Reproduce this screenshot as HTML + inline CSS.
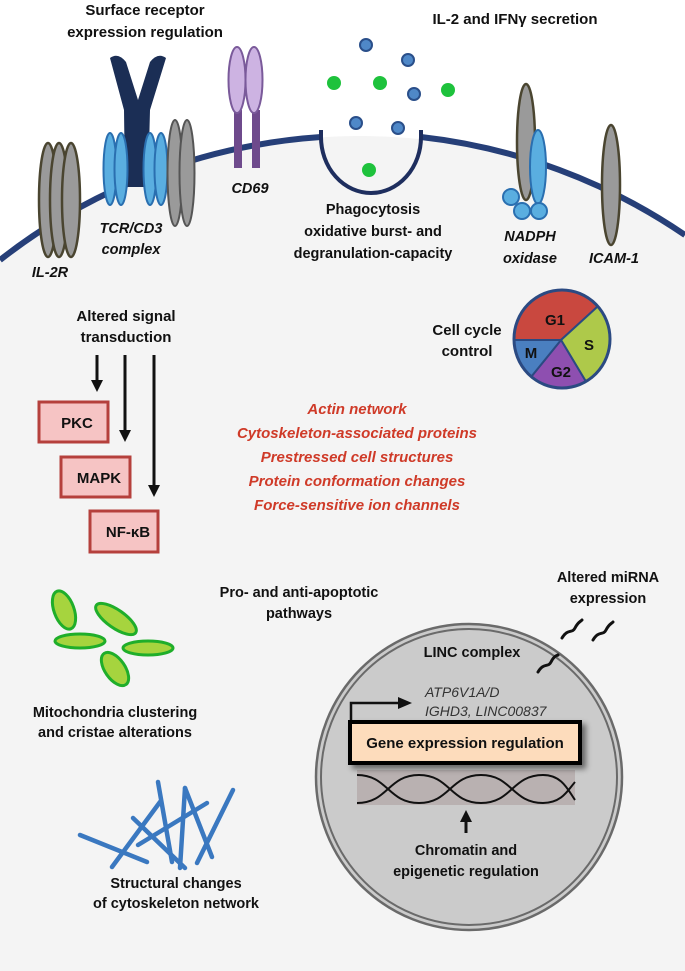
<!DOCTYPE html>
<html><head><meta charset="utf-8"><style>
html,body{margin:0;padding:0;background:#fff;width:685px;height:971px;overflow:hidden}
svg{display:block}
text{font-family:"Liberation Sans",Arial,sans-serif}
.b{font-weight:bold;font-size:14.5px;fill:#111}
.bi{font-weight:bold;font-style:italic;font-size:14.5px;fill:#111}
.r{font-weight:bold;font-style:italic;font-size:15px;fill:#cf3a28}
</style></head><body>
<svg width="685" height="971" viewBox="0 0 685 971" xmlns="http://www.w3.org/2000/svg">
<defs>
<filter id="sh" x="-10%" y="-20%" width="130%" height="160%"><feGaussianBlur stdDeviation="3"/></filter>
<clipPath id="cc"><ellipse cx="562" cy="339" rx="48" ry="49"/></clipPath>
</defs>
<rect width="685" height="971" fill="#fff"/>
<path d="M0,260 A584,584 0 0 1 685,235 L685,971 L0,971 Z" fill="#f4f4f4"/>
<path d="M0,260 A584,584 0 0 1 321,137" fill="none" stroke="#263f78" stroke-width="6"/>
<path d="M421,137 A584,584 0 0 1 685,235" fill="none" stroke="#263f78" stroke-width="6"/>
<path d="M321,130 L321,137 A50,56 0 0 0 421,137 L421,130" fill="none" stroke="#1e2e5e" stroke-width="4"/>

<g fill="#9a9a9a" stroke="#4a4530" stroke-width="2.5">
<ellipse cx="48" cy="200" rx="9" ry="57"/>
<ellipse cx="59" cy="200" rx="9" ry="57"/>
<ellipse cx="71" cy="200" rx="9" ry="57"/>
</g>
<g fill="#1b2e55">
<path d="M110,58 Q118,52 126,62 L138,100 L150,62 Q158,52 166,58 L150,110 L148,187 L125,187 L124,110 Z"/>
</g>
<g fill="#5aaee0" stroke="#2a6fb0" stroke-width="2">
<ellipse cx="110" cy="169" rx="6.5" ry="36"/>
<ellipse cx="121" cy="169" rx="6.5" ry="36"/>
<ellipse cx="150" cy="169" rx="6.5" ry="36"/>
<ellipse cx="161" cy="169" rx="6.5" ry="36"/>
</g>
<g fill="#9a9a9a" stroke="#555" stroke-width="2">
<ellipse cx="175" cy="173" rx="7.5" ry="53"/>
<ellipse cx="187" cy="173" rx="7.5" ry="53"/>
</g>
<g fill="#6e4a8c"><rect x="234" y="110" width="8" height="58"/><rect x="252" y="110" width="8" height="58"/></g>
<g fill="#cdb3e2" stroke="#7a5a9a" stroke-width="2">
<ellipse cx="237" cy="80" rx="8.5" ry="33"/>
<ellipse cx="254" cy="80" rx="8.5" ry="33"/>
</g>
<g fill="#4f88c8" stroke="#2a4f8a" stroke-width="2">
<circle cx="366" cy="45" r="6"/><circle cx="408" cy="60" r="6"/><circle cx="414" cy="94" r="6"/><circle cx="356" cy="123" r="6"/><circle cx="398" cy="128" r="6"/>
</g>
<g fill="#1ec23c"><circle cx="334" cy="83" r="7"/><circle cx="380" cy="83" r="7"/><circle cx="448" cy="90" r="7"/><circle cx="369" cy="170" r="7"/></g>
<ellipse cx="526" cy="142" rx="9" ry="58" fill="#9a9a9a" stroke="#4a4530" stroke-width="2.5"/>
<ellipse cx="538" cy="167" rx="8" ry="37" fill="#5aaee0" stroke="#2a6fb0" stroke-width="2"/>
<g fill="#5aaee0" stroke="#2a6fb0" stroke-width="2">
<circle cx="511" cy="197" r="8"/><circle cx="522" cy="211" r="8"/><circle cx="539" cy="211" r="8"/>
</g>
<ellipse cx="611" cy="185" rx="9" ry="60" fill="#9a9a9a" stroke="#4a4530" stroke-width="2.5"/>

<text class="b" x="145" y="15" text-anchor="middle" style="font-size:15px">Surface receptor</text>
<text class="b" x="145" y="37" text-anchor="middle" style="font-size:15px">expression regulation</text>
<text class="b" x="515" y="24" text-anchor="middle" style="font-size:15px">IL-2 and IFNγ secretion</text>
<text class="bi" x="131" y="233" text-anchor="middle">TCR/CD3</text>
<text class="bi" x="131" y="254" text-anchor="middle">complex</text>
<text class="bi" x="50" y="277" text-anchor="middle">IL-2R</text>
<text class="bi" x="250" y="193" text-anchor="middle">CD69</text>
<text class="b" x="373" y="214" text-anchor="middle">Phagocytosis</text>
<text class="b" x="373" y="236" text-anchor="middle">oxidative burst- and</text>
<text class="b" x="373" y="258" text-anchor="middle">degranulation-capacity</text>
<text class="bi" x="530" y="241" text-anchor="middle">NADPH</text>
<text class="bi" x="530" y="263" text-anchor="middle">oxidase</text>
<text class="bi" x="614" y="263" text-anchor="middle">ICAM-1</text>

<text class="b" x="126" y="321" text-anchor="middle" style="font-size:15px">Altered signal</text>
<text class="b" x="126" y="342" text-anchor="middle" style="font-size:15px">transduction</text>
<g stroke="#111" stroke-width="3" fill="none">
<line x1="97" y1="355" x2="97" y2="382"/><line x1="125" y1="355" x2="125" y2="432"/><line x1="154" y1="355" x2="154" y2="487"/>
</g>
<g fill="#111">
<polygon points="91,380 103,380 97,392"/><polygon points="119,430 131,430 125,442"/><polygon points="148,485 160,485 154,497"/>
</g>
<g fill="#f6c4c4" stroke="#b5403c" stroke-width="3">
<rect x="39" y="402" width="69" height="40"/><rect x="61" y="457" width="69" height="40"/><rect x="90" y="511" width="68" height="41"/>
</g>
<text class="b" x="77" y="428" text-anchor="middle" style="font-size:15px">PKC</text>
<text class="b" x="99" y="483" text-anchor="middle" style="font-size:15px">MAPK</text>
<text class="b" x="128" y="537" text-anchor="middle" style="font-size:15px">NF-κB</text>

<text class="r" x="357" y="414" text-anchor="middle">Actin network</text>
<text class="r" x="357" y="438" text-anchor="middle">Cytoskeleton-associated proteins</text>
<text class="r" x="357" y="462" text-anchor="middle">Prestressed cell structures</text>
<text class="r" x="357" y="486" text-anchor="middle">Protein conformation changes</text>
<text class="r" x="357" y="510" text-anchor="middle">Force-sensitive ion channels</text>

<text class="b" x="467" y="335" text-anchor="middle" style="font-size:15px">Cell cycle</text>
<text class="b" x="467" y="356" text-anchor="middle" style="font-size:15px">control</text>
<g clip-path="url(#cc)" stroke="#2b4a82" stroke-width="2">
<polygon points="561,340 510,340 510,285 615,285 615,290 596,308" fill="#c9483f"/>
<polygon points="561,340 596,308 615,290 615,395 585,380" fill="#aec94a"/>
<polygon points="561,340 585,380 600,395 520,395 531,377" fill="#8e4fb0"/>
<polygon points="561,340 531,377 510,377 510,340" fill="#4a7fc0"/>
</g>
<ellipse cx="562" cy="339" rx="48" ry="49" fill="none" stroke="#2b4a82" stroke-width="3"/>
<text class="b" x="555" y="325" text-anchor="middle" style="font-size:15px">G1</text>
<text class="b" x="589" y="350" text-anchor="middle" style="font-size:15px">S</text>
<text class="b" x="531" y="358" text-anchor="middle" style="font-size:15px">M</text>
<text class="b" x="561" y="377" text-anchor="middle" style="font-size:15px">G2</text>

<g fill="#a6d43e" stroke="#1fae2a" stroke-width="3">
<ellipse cx="64" cy="610" rx="10" ry="20" transform="rotate(-20 64 610)"/>
<ellipse cx="116" cy="619" rx="24" ry="9" transform="rotate(35 116 619)"/>
<ellipse cx="80" cy="641" rx="25" ry="7"/>
<ellipse cx="148" cy="648" rx="25" ry="7"/>
<ellipse cx="115" cy="669" rx="10" ry="19" transform="rotate(-35 115 669)"/>
</g>
<text class="b" x="115" y="717" text-anchor="middle">Mitochondria clustering</text>
<text class="b" x="115" y="737" text-anchor="middle">and cristae alterations</text>
<text class="b" x="299" y="597" text-anchor="middle">Pro- and anti-apoptotic</text>
<text class="b" x="299" y="618" text-anchor="middle">pathways</text>

<g stroke="#3a78c0" stroke-width="4.5" stroke-linecap="round">
<line x1="80" y1="835" x2="147" y2="862"/><line x1="112" y1="867" x2="160" y2="802"/>
<line x1="158" y1="782" x2="172" y2="862"/><line x1="133" y1="818" x2="185" y2="868"/>
<line x1="185" y1="788" x2="180" y2="868"/><line x1="185" y1="788" x2="212" y2="857"/>
<line x1="138" y1="845" x2="207" y2="803"/><line x1="233" y1="790" x2="197" y2="863"/>
</g>
<text class="b" x="176" y="888" text-anchor="middle">Structural changes</text>
<text class="b" x="176" y="908" text-anchor="middle">of cytoskeleton network</text>

<circle cx="469" cy="777" r="153" fill="#cbcbcb" stroke="#6a6a6a" stroke-width="2.5"/>
<circle cx="469" cy="777" r="148" fill="none" stroke="#6a6a6a" stroke-width="2"/>
<text class="b" x="608" y="582" text-anchor="middle">Altered miRNA</text>
<text class="b" x="608" y="603" text-anchor="middle">expression</text>
<g fill="none" stroke="#111" stroke-width="3" stroke-linecap="round">
<path d="M562,638 C568,628 572,634 575,628 C578,622 580,622 582,620"/>
<path d="M593,640 C599,630 603,636 606,630 C609,624 611,624 613,622"/>
<path d="M538,672 C544,662 548,668 551,662 C554,656 556,656 558,655"/>
</g>
<text class="b" x="472" y="657" text-anchor="middle">LINC complex</text>
<path d="M351,722 L351,703 L400,703" fill="none" stroke="#111" stroke-width="2.5"/>
<polygon points="398,697 412,703 398,709" fill="#111"/>
<text x="425" y="697" style="font-style:italic;font-size:14px;fill:#333">ATP6V1A/D</text>
<text x="425" y="716" style="font-style:italic;font-size:14px;fill:#333">IGHD3, LINC00837</text>
<rect x="357" y="770" width="218" height="35" fill="#b9b1b1"/>
<g fill="none" stroke="#111" stroke-width="2">
<path d="M357,775 C388,775 388,803 419,803 C450,803 450,775 481,775 C512,775 512,803 543,803 C562,803 568,790 575,782"/>
<path d="M357,803 C388,803 388,775 419,775 C450,775 450,803 481,803 C512,803 512,775 543,775 C562,775 568,790 575,800"/>
</g>
<rect x="352" y="724" width="234" height="45" fill="#000" opacity="0.5" filter="url(#sh)"/>
<rect x="350" y="722" width="230" height="41" fill="#fddcbc" stroke="#000" stroke-width="4"/>
<text class="b" x="465" y="748" text-anchor="middle" style="font-size:15px">Gene expression regulation</text>
<line x1="466" y1="833" x2="466" y2="820" stroke="#111" stroke-width="3"/>
<polygon points="460,822 472,822 466,810" fill="#111"/>
<text class="b" x="466" y="855" text-anchor="middle">Chromatin and</text>
<text class="b" x="466" y="876" text-anchor="middle">epigenetic regulation</text>
</svg>
</body></html>
